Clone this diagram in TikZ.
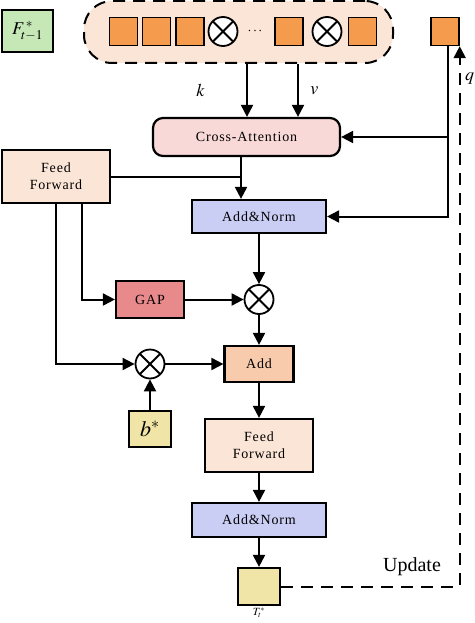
\documentclass[tikz,border=0pt]{standalone}
\usepackage{mathptmx}
\usepackage{fontspec}
\setmainfont{Liberation Serif}
\newfontfamily\boxfont[LetterSpace=6]{Liberation Serif}
\usetikzlibrary{arrows.meta}

\definecolor{fgreen}{HTML}{C6E8B6}
\definecolor{seqfill}{HTML}{FBE5D6}
\definecolor{tokfill}{HTML}{F59B4E}
\definecolor{cafill}{HTML}{F8D9D8}
\definecolor{anfill}{HTML}{CACDF4}
\definecolor{gapfill}{HTML}{E8898B}
\definecolor{addfill}{HTML}{F8CBAD}
\definecolor{yfill}{HTML}{F0E4A6}

\begin{document}
\begin{tikzpicture}[x=1pt, y=-1pt,
	blk/.style={draw, line width=2.2pt, inner sep=0pt, align=center,
		font=\boxfont\fontsize{14}{17}\selectfont},
	tok/.style={draw, line width=1.4pt, fill=tokfill, minimum size=28pt, inner sep=0pt},
	mult/.style={circle, draw, line width=1.8pt, fill=white, minimum size=29pt, inner sep=0pt,
		path picture={\draw[line width=1.8pt]
			(path picture bounding box.north west) -- (path picture bounding box.south east)
			(path picture bounding box.north east) -- (path picture bounding box.south west);}},
	flow/.style={line width=2pt, -{Triangle[length=12pt, width=12pt]}},
	lbl/.style={font=\fontsize{18}{18}\selectfont}]
	\useasboundingbox (0,0) rectangle (474,623);

	% inputs
	\node[blk, fill=fgreen, minimum width=51pt, minimum height=42pt] (fprev) at (27.5,31)
		{\fontsize{18}{18}\selectfont $F^{\,*}_{t-1}$};
	\node[draw, line width=2pt, dash pattern=on 12pt off 8pt, fill=seqfill, rounded corners=28pt,
		minimum width=309pt, minimum height=62pt] (seq) at (238.5,32) {};
	\node[tok] (s1) at (123.5,31.5) {};
	\node[tok] (s2) at (156.5,31.5) {};
	\node[tok] (s3) at (190,31.5) {};
	\node[mult] (m1) at (223,31.5) {};
	\node[font=\fontsize{14}{14}\selectfont] (dots) at (255,31) {$\cdots$};
	\node[tok] (s4) at (289,31.5) {};
	\node[mult] (m2) at (327,31.5) {};
	\node[tok] (s5) at (362.5,31.5) {};
	\node[tok] (qtok) at (445,31.5) {};

	% blocks
	\node[blk, fill=cafill, rounded corners=10pt, minimum width=187pt, minimum height=38pt] (ca) at (246.5,137) {Cross-Attention};
	\node[blk, fill=seqfill, minimum width=108pt, minimum height=53pt] (ff1) at (56,176.5) {Feed\\Forward};
	\node[blk, fill=anfill, minimum width=134pt, minimum height=33pt] (an1) at (259,216.5) {Add\&Norm};
	\node[blk, fill=gapfill, minimum width=68pt, minimum height=37pt] (gap) at (150,299.5) {GAP};
	\node[mult] (ot1) at (259,299.5) {};
	\node[mult] (ot2) at (150,364) {};
	\node[blk, fill=addfill, minimum width=69pt, minimum height=36pt] (add) at (259,364) {Add};
	\node[blk, fill=yfill, minimum width=42pt, minimum height=36pt] (bst) at (150,429)
		{\fontsize{22}{22}\selectfont $b^{*}$};
	\node[blk, fill=seqfill, minimum width=108pt, minimum height=53pt] (ff2) at (259,445.5) {Feed\\Forward};
	\node[blk, fill=anfill, minimum width=134pt, minimum height=34pt] (an2) at (259,520) {Add\&Norm};
	\node[blk, fill=yfill, minimum width=42pt, minimum height=37pt] (tt) at (259,586.5) {};
	\node[anchor=north, inner sep=1pt, font=\fontsize{11}{11}\selectfont] (ttl) at (tt.south) {$T_t^{*}$};

	% helper columns
	\coordinate (kx) at (247,0);
	\coordinate (vx) at (298,0);
	\coordinate (jx) at (241,0);
	\coordinate (gx) at (82,0);
	\coordinate (qx) at (448,0);

	% connectors
	\draw[flow] (seq.south -| kx) -- (ca.north -| kx) node[lbl, midway, left=38pt] {$k$};
	\draw[flow] (seq.south -| vx) -- (ca.north -| vx) node[lbl, midway, right=8pt] {$v$};
	\draw[flow] (qtok.south -| qx) |- (an1.east);
	\draw[flow] (ca.east -| qx) -- (ca.east);
	\draw[flow] (ca.south -| jx) -- (an1.north -| jx);
	\draw[line width=2pt] (ff1.east) -- (ff1.east -| jx);
	\draw[flow] (an1) -- (ot1);
	\draw[flow] (ff1.south -| gx) |- (gap.west);
	\draw[flow] (gap) -- (ot1);
	\draw[flow] (ff1.south) |- (ot2.west);
	\draw[flow] (bst) -- (ot2);
	\draw[flow] (ot2) -- (add);
	\draw[flow] (ot1) -- (add);
	\draw[flow] (add) -- (ff2);
	\draw[flow] (ff2) -- (an2);
	\draw[flow] (an2) -- (tt);
	\draw[flow, dash pattern=on 12pt off 8pt] (tt.east) -| (qtok.south east)
		node[lbl, pos=0.97, right=1pt] {$q$};
	\node[font=\fontsize{20}{20}\selectfont] (upd) at (412,567) {Update};
\end{tikzpicture}
\end{document}
